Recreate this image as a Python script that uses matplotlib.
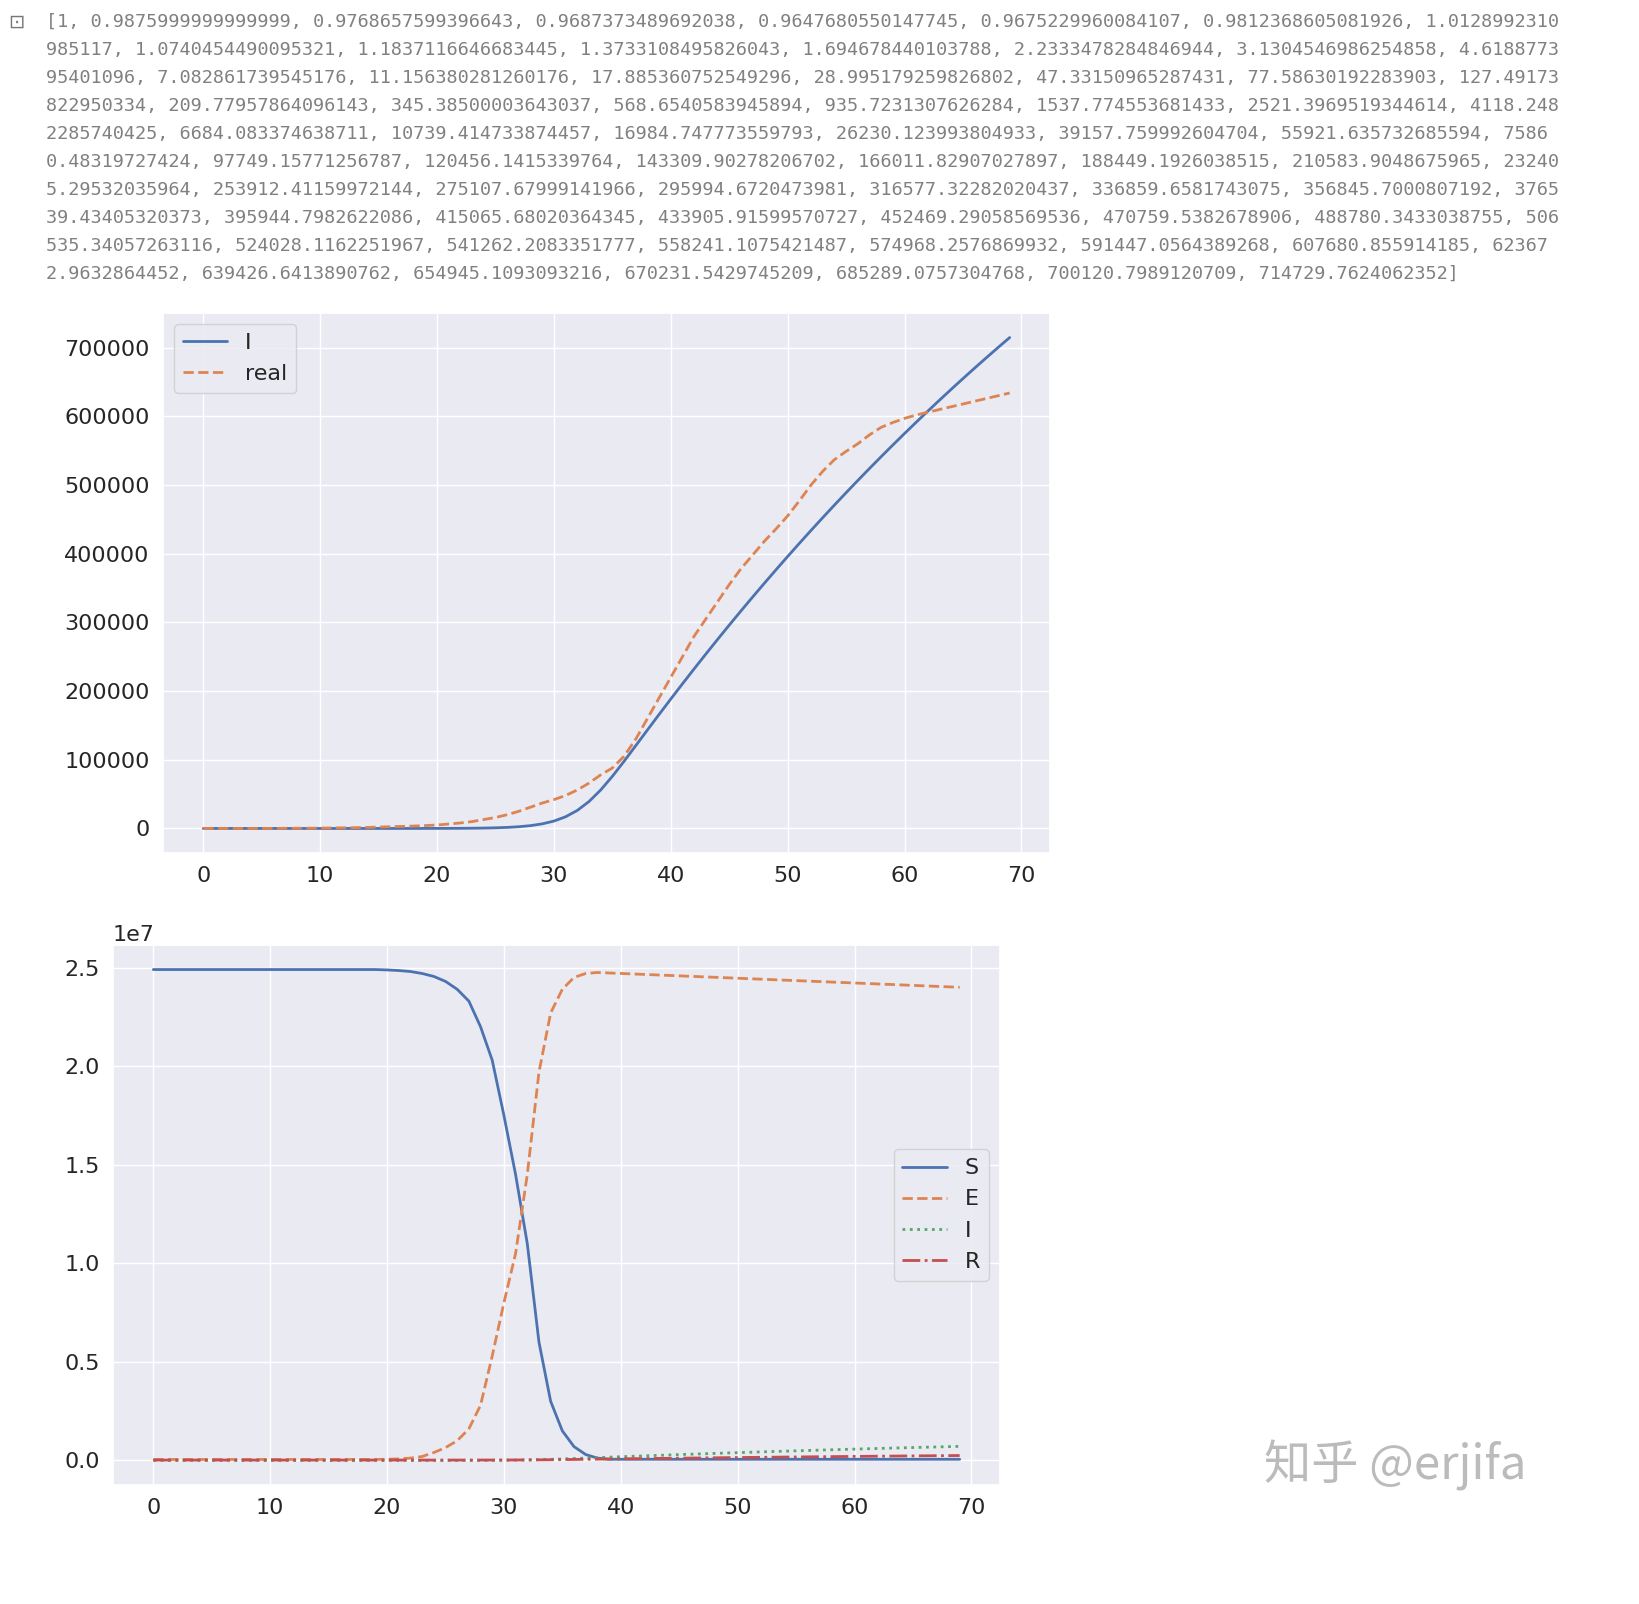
import matplotlib
matplotlib.use('Agg')
import matplotlib.pyplot as plt
import seaborn as sns

days = list(range(70))

I = [1, 0.9875999999999999, 0.9768657599396643, 0.9687373489692038, 0.9647680550147745,
     0.9675229960084107, 0.9812368605081926, 1.0128992310985117, 1.0740454490095321,
     1.1837116646683445, 1.3733108495826043, 1.694678440103788, 2.2333478284846944,
     3.1304546986254858, 4.618877395401096, 7.082861739545176, 11.156380281260176,
     17.885360752549296, 28.995179259826802, 47.33150965287431, 77.58630192283903,
     127.49173822950334, 209.77957864096143, 345.38500003643037, 568.6540583945894,
     935.7231307626284, 1537.774553681433, 2521.3969519344614, 4118.2482285740425,
     6684.083374638711, 10739.414733874457, 16984.747773559793, 26230.123993804933,
     39157.759992604704, 55921.635732685594, 75860.48319727424, 97749.15771256787,
     120456.1415339764, 143309.90278206702, 166011.82907027897, 188449.1926038515,
     210583.9048675965, 232405.29532035964, 253912.41159972144, 275107.67999141966,
     295994.6720473981, 316577.32282020437, 336859.6581743075, 356845.7000807192,
     376539.43405320373, 395944.7982622086, 415065.68020364345, 433905.91599570727,
     452469.29058569536, 470759.5382678906, 488780.3433038755, 506535.34057263116,
     524028.1162251967, 541262.2083351777, 558241.1075421487, 574968.2576869932,
     591447.0564389268, 607680.855914185, 623672.9632864452, 639426.6413890762,
     654945.1093093216, 670231.5429745209, 685289.0757304768, 700120.7989120709,
     714729.7624062352]

real = [0, 0, 0, 0, 0, 0, 100, 200, 300, 400, 500, 700, 900, 1200, 1500, 2000, 2500, 3000,
        3500, 4200, 5000, 6500, 8000, 10000, 13000, 16000, 20000, 25000, 31000, 37000,
        42000, 48000, 56000, 66000, 78000, 88000, 105000, 130000, 160000, 190000,
        220000, 250000, 280000, 305000, 330000, 355000, 378000, 398000, 418000, 436000,
        455000, 477000, 500000, 520000, 537000, 549000, 560000, 573000, 584000, 591000,
        597000, 602000, 606000, 610000, 614000, 618000, 622000, 626000, 630000, 634000]

# 单位 1e7
S = [2.49] * 20 + [2.488, 2.485, 2.48, 2.47, 2.455, 2.43, 2.39, 2.33, 2.2, 2.03,
                   1.75, 1.45, 1.1, 0.6, 0.3, 0.15, 0.07, 0.03, 0.012] + [0.006] * 31
E = [0.005] * 20 + [0.006, 0.008, 0.012, 0.02, 0.04, 0.065, 0.1, 0.16, 0.28, 0.53,
                    0.8, 1.05, 1.45, 1.97, 2.27, 2.39, 2.45, 2.47, 2.475]
E += [2.475 - (2.475 - 2.40) * (k + 1) / 31 for k in range(31)]
R = [0.002 + 0.023 * (v / I[-1]) for v in I]

# 输出文本在网页中的换行位置
line_ends = [', 1.0128992310', ', 4.6188773', ', 127.49173', ', 4118.248', ', 7586',
             ', 23240', ', 3765', ', 506', ', 62367']

fig = plt.figure(figsize=(16.39, 16.04), dpi=100)
sns.set_theme(style='darkgrid')
plt.rcParams['font.family'] = ['DejaVu Sans', 'Noto Sans CJK SC']

# 打印输出
s = str(I)
lines = []
pos = 0
for end in line_ends:
    j = s.index(end, pos) + len(end)
    lines.append(s[pos:j])
    pos = j
lines.append(s[pos:])
for k, ln in enumerate(lines):
    fig.text(46 / 1639, 1 - (22 + 28 * k) / 1604, ln, family='DejaVu Sans Mono',
             fontsize=13.3, color='#808080', va='center', ha='left')
fig.text(8 / 1639, 1 - 22 / 1604, '⊡', fontsize=14, color='#777777', va='center')

ax1 = fig.add_axes([163 / 1639, 1 - 853 / 1604, 887 / 1639, 540 / 1604])
ax1.plot(days, I, label='I', lw=2)
ax1.plot(days, real, '--', label='real', lw=2)
ax1.legend(loc='upper left', fontsize=16)
ax1.tick_params(labelsize=16)

ax2 = fig.add_axes([113 / 1639, 1 - 1485 / 1604, 887 / 1639, 540 / 1604])
ax2.plot(days, [v * 1e7 for v in S], '-', label='S', lw=2)
ax2.plot(days, [v * 1e7 for v in E], '--', label='E', lw=2)
ax2.plot(days, I, ':', label='I', lw=2)
ax2.plot(days, [v * 1e7 for v in R], '-.', label='R', lw=2)
ax2.legend(loc='center right', fontsize=16)
ax2.tick_params(labelsize=16)
ax2.yaxis.get_offset_text().set_fontsize(16)

fig.text(1395 / 1639, 1 - 1465 / 1604, '知乎 @erjifa', fontsize=34, color='#bbbbbb',
         ha='center', va='center', family=['Noto Sans CJK SC', 'DejaVu Sans'])

fig.savefig('out.png', dpi=100)
